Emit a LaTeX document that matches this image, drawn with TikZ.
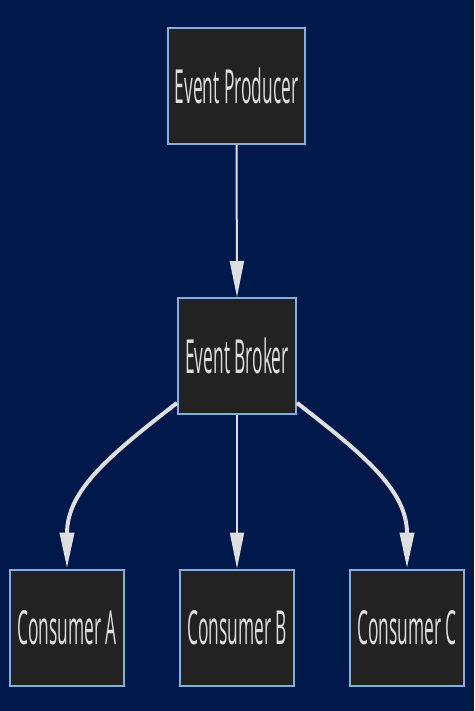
\documentclass[tikz,border=0pt]{standalone}
\usepackage{fontspec}
\usepackage{xcolor}
\usetikzlibrary{arrows.meta}
\newfontfamily\boxfont[FakeStretch=0.37]{Open Sans}
\definecolor{bgnavy}{RGB}{1,24,74}
\definecolor{boxfill}{RGB}{34,34,34}
\definecolor{boxline}{RGB}{129,177,219}
\definecolor{edgegray}{RGB}{222,222,222}

\begin{document}
\begin{tikzpicture}[x=1pt, y=-1pt,
    box/.style={draw=boxline, line width=2pt, fill=boxfill, text=edgegray,
      minimum height=116pt, inner sep=0pt, font=\boxfont\fontsize{47}{47}\selectfont},
    flow/.style={draw=edgegray, line width=2pt, -{Triangle[length=36pt, width=14pt]}},
    curvedflow/.style={flow, line width=4pt}]
  % background
  \fill[bgnavy] (0,0) rectangle (474,711);
  \useasboundingbox (0,0) rectangle (474,711);
  % nodes
  \node[box, minimum width=137pt] (producer) at (236.5,86) {Event Producer};
  \node[box, minimum width=118pt] (broker) at (237,356) {Event Broker};
  \node[box, minimum width=114pt] (consA) at (67,627.5) {Consumer A};
  \node[box, minimum width=114pt] (consB) at (237,627.5) {Consumer B};
  \node[box, minimum width=114pt] (consC) at (407,627.5) {Consumer C};
  % edges
  \draw[flow] (producer.south) -- (broker.north);
  \draw[flow] (broker.south) -- (consB.north);
  \draw[curvedflow] (broker.218) .. controls (110,455) and (67,490) .. (consA.north);
  \draw[curvedflow] (broker.322) .. controls (364,455) and (407,490) .. (consC.north);
\end{tikzpicture}
\end{document}
